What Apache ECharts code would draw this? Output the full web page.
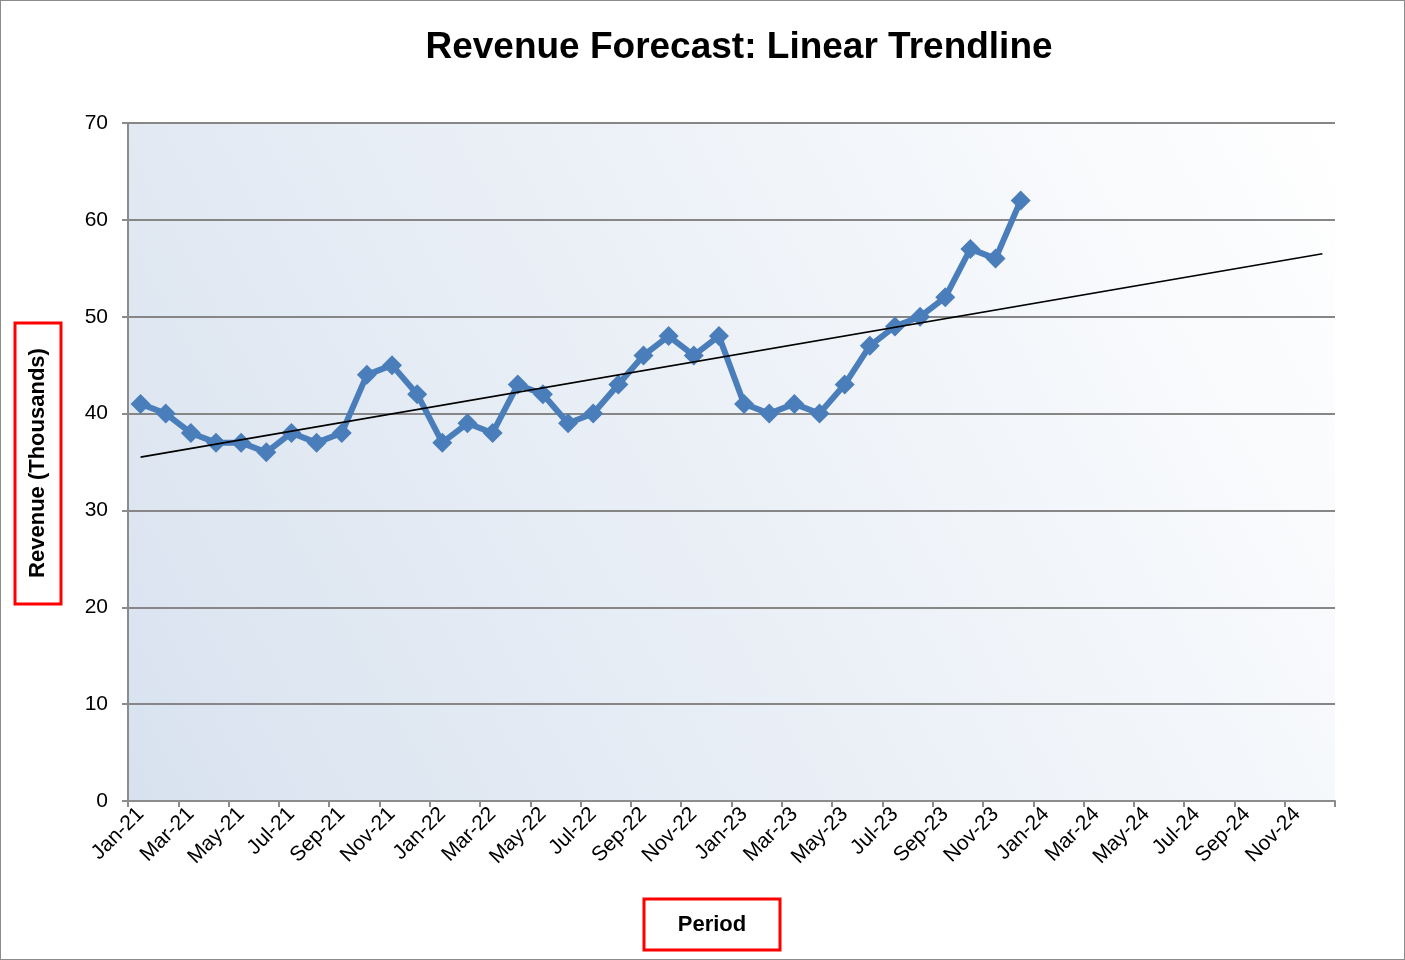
<!DOCTYPE html>
<html>
<head>
<meta charset="utf-8">
<script src="https://cdn.jsdelivr.net/npm/echarts@6/dist/echarts.min.js"></script>
<style>
  html, body { margin: 0; padding: 0; background: #fff; }
  #chart { width: 1405px; height: 960px; box-sizing: border-box; border: 1px solid #8c8c8c; }
</style>
</head>
<body>
<div id="chart"></div>
<script>
// months shown on the axis (Jan-21 .. Dec-24)
const months = [
  'Jan-21','Feb-21','Mar-21','Apr-21','May-21','Jun-21','Jul-21','Aug-21','Sep-21','Oct-21','Nov-21','Dec-21',
  'Jan-22','Feb-22','Mar-22','Apr-22','May-22','Jun-22','Jul-22','Aug-22','Sep-22','Oct-22','Nov-22','Dec-22',
  'Jan-23','Feb-23','Mar-23','Apr-23','May-23','Jun-23','Jul-23','Aug-23','Sep-23','Oct-23','Nov-23','Dec-23',
  'Jan-24','Feb-24','Mar-24','Apr-24','May-24','Jun-24','Jul-24','Aug-24','Sep-24','Oct-24','Nov-24','Dec-24'
]

// revenue in thousands, Jan-21 .. Dec-23
const revenue = [
  41, 40, 38, 37, 37, 36, 38, 37, 38, 44, 45, 42,
  37, 39, 38, 43, 42, 39, 40, 43, 46, 48, 46, 48,
  41, 40, 41, 40, 43, 47, 49, 50, 52, 57, 56, 62
]

// trendline end points
const trendMonths = ['Jan-21', 'Dec-24']
const trendValues = [35.5, 56.5]

const chart = echarts.init(document.getElementById('chart'))

const font = 'Liberation Sans, Arial, sans-serif'

chart.setOption({
  animation: false,
  backgroundColor: '#fff',
  title: {
    text: 'Revenue Forecast: Linear Trendline',
    left: 733,
    top: 23,
    textAlign: 'center',
    textStyle: { fontFamily: font, fontSize: 37, fontWeight: 'bold', color: '#000' }
  },
  grid: {
    left: 127,
    right: 69,
    top: 122,
    bottom: 158,
    show: true,
    borderWidth: 0,
    backgroundColor: new echarts.graphic.LinearGradient(0, 1, 1, 0, [
      { offset: 0, color: '#d8e2ef' },
      { offset: 1, color: '#ffffff' }
    ])
  },
  xAxis: {
    type: 'category',
    data: months,
    boundaryGap: true,
    axisLine: { lineStyle: { color: '#8c8c8c', width: 2 } },
    axisTick: { show: true, interval: 1, length: 6, lineStyle: { color: '#8c8c8c', width: 2 } },
    axisLabel: {
      interval: 1,
      rotate: 45,
      margin: 10,
      fontFamily: font,
      fontSize: 21,
      color: '#000'
    },
    splitLine: { show: false }
  },
  yAxis: {
    type: 'value',
    min: 0,
    max: 70,
    interval: 10,
    axisLine: { show: true, lineStyle: { color: '#8c8c8c', width: 2 } },
    axisTick: { show: true, length: 6, lineStyle: { color: '#8c8c8c', width: 2 } },
    axisLabel: { margin: 20, fontFamily: font, fontSize: 21, color: '#000' },
    splitLine: { lineStyle: { color: '#868686', width: 2 } }
  },
  series: [
    {
      name: 'Trend',
      type: 'line',
      data: trendMonths.map((m, i) => [m, trendValues[i]]),
      symbol: 'none',
      lineStyle: { color: '#000', width: 1.6 },
      z: 3
    },
    {
      name: 'Revenue',
      type: 'line',
      data: revenue,
      symbol: 'diamond',
      symbolSize: 20,
      showAllSymbol: true,
      itemStyle: { color: '#4a7ebb' },
      lineStyle: { color: '#4a7ebb', width: 6 },
      z: 2
    }
  ],
  graphic: [
    {
      type: 'rect',
      shape: { x: 14, y: 322, width: 46, height: 281 },
      style: { fill: 'none', stroke: '#ff0000', lineWidth: 3 }
    },
    {
      type: 'text',
      x: 37,
      y: 462,
      rotation: Math.PI / 2,
      style: {
        text: 'Revenue (Thousands)',
        font: 'bold 22px ' + font,
        fill: '#000',
        align: 'center',
        verticalAlign: 'middle'
      }
    },
    {
      type: 'rect',
      shape: { x: 643, y: 898, width: 136, height: 51 },
      style: { fill: 'none', stroke: '#ff0000', lineWidth: 3 }
    },
    {
      type: 'text',
      x: 711,
      y: 924,
      style: {
        text: 'Period',
        font: 'bold 22px ' + font,
        fill: '#000',
        align: 'center',
        verticalAlign: 'middle'
      }
    }
  ]
})
</script>
</body>
</html>
